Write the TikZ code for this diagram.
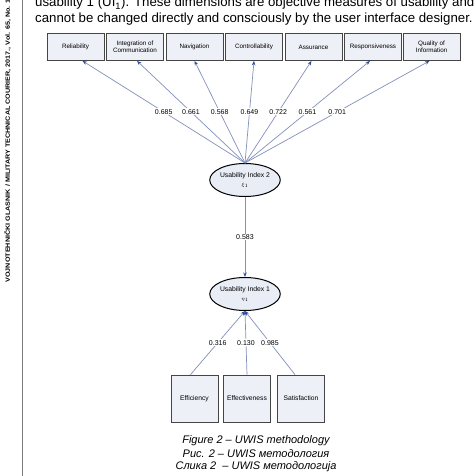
\documentclass[tikz,border=0pt]{standalone}
\usepackage{fontspec}
\setmainfont{Liberation Sans}
\usetikzlibrary{shapes.geometric,arrows.meta}
\definecolor{boxfill}{HTML}{EEF0F7}
\definecolor{boxline}{HTML}{454545}
\definecolor{ellfill}{HTML}{E9EDF6}
\definecolor{arr}{HTML}{8290BC}
\definecolor{arrhead}{HTML}{2E4E9E}
\definecolor{margin}{HTML}{7A7A7A}
\tikzset{
  ind/.style={draw=boxline,fill=boxfill,line width=0.8pt,minimum width=57pt,minimum height=27pt,inner sep=1pt,align=center,font=\fontsize{6.3}{7}\selectfont},
  bind/.style={draw=boxline,fill=boxfill,line width=0.8pt,minimum width=47pt,minimum height=47pt,inner sep=1pt,align=center,font=\fontsize{6.7}{7.5}\selectfont},
  lat/.style={ellipse,draw=black,fill=ellfill,line width=1pt,minimum width=70pt,minimum height=33pt,inner sep=0pt,align=center,font=\fontsize{6.8}{8}\selectfont},
  conn/.style={draw=arr,line width=0.7pt,-{Stealth[length=4.5pt,width=3.5pt,color=arrhead,fill=arrhead]}},
  coef/.style={fill=white,inner sep=1pt,font=\fontsize{7}{7.5}\selectfont},
  bodytext/.style={anchor=base west,inner sep=0pt,font=\fontsize{13.25}{15}\selectfont},
  capt/.style={inner sep=0pt,font=\fontsize{11}{12}\selectfont\itshape}
}
\begin{document}
\begin{tikzpicture}[x=1pt,y=-1pt]
\useasboundingbox (0,0) rectangle (474,476);
\clip (0,0) rectangle (474,476);
\fill[white] (0,0) rectangle (474,476);
% margin
\draw[margin,line width=1pt] (22,0) -- (22,476);
\node[rotate=90,inner sep=0pt] (banner) at (7.5,141) {\resizebox{283pt}{5.5pt}{\bfseries VOJNOTEHNIČKI GLASNIK / MILITARY TECHNICAL COURIER, 2017., Vol. 65, No. 1}};
% body text
\node[bodytext] (t1) at (35,7) {usability 1 (UI\textsubscript{1}). These dimensions are objective measures of usability and};
\node[bodytext] (t2) at (35,23) {cannot be changed directly and consciously by the user interface designer.};
% top indicators
\node[ind] (rel) at (75.5,47) {Reliability};
\node[ind] (int) at (135,47) {Integration of\\Communication};
\node[ind] (nav) at (194.5,47) {Navigation};
\node[ind] (con) at (254,47) {Controllability};
\node[ind] (ass) at (313.5,47) {Assurance};
\node[ind] (res) at (373,47) {Responsiveness};
\node[ind] (qua) at (431.5,47) {Quality of\\Information};
% latent variables
\node[lat] (u2) at (245,180) {Usability Index 2\\[1pt]$\scriptstyle\xi_1$};
\node[lat] (u1) at (245,294) {Usability Index 1\\[1pt]$\scriptstyle\eta_1$};
% bottom indicators
\node[bind] (eff) at (194.5,398.5) {Efficiency};
\node[bind] (efv) at (247,398.5) {Effectiveness};
\node[bind] (sat) at (301,398.5) {Satisfaction};
% connectors top
\draw[conn] (u2.north) -- node[coef]{0.685} ([xshift=7pt]rel.south);
\draw[conn] (u2.north) -- node[coef]{0.661} ([xshift=2pt]int.south);
\draw[conn] (u2.north) -- node[coef]{0.568} (nav.south);
\draw[conn] (u2.north) -- node[coef]{0.649} (con.south);
\draw[conn] (u2.north) -- node[coef]{0.722} ([xshift=-2pt]ass.south);
\draw[conn] (u2.north) -- node[coef]{0.561} ([xshift=-3pt]res.south);
\draw[conn] (u2.north) -- node[coef]{0.701} ([xshift=-2pt]qua.south);
% middle
\draw[conn] (u2.south) -- node[coef]{0.583} (u1.north);
% bottom
\draw[conn] ([xshift=-4pt]eff.north) -- node[coef]{0.316} (u1.south);
\draw[conn] (efv.north) -- node[coef]{0.130} (u1.south);
\draw[conn] ([xshift=-6pt]sat.north) -- node[coef]{0.985} (u1.south);
% caption
\node[capt] (c1) at (256,441) {Figure 2 – UWIS methodology};
\node[capt] (c2) at (256,454) {Рис. 2 – UWIS методология};
\node[capt] (c3) at (256,466.5) {Слика 2 \ – UWIS методологија};
\end{tikzpicture}
\end{document}
